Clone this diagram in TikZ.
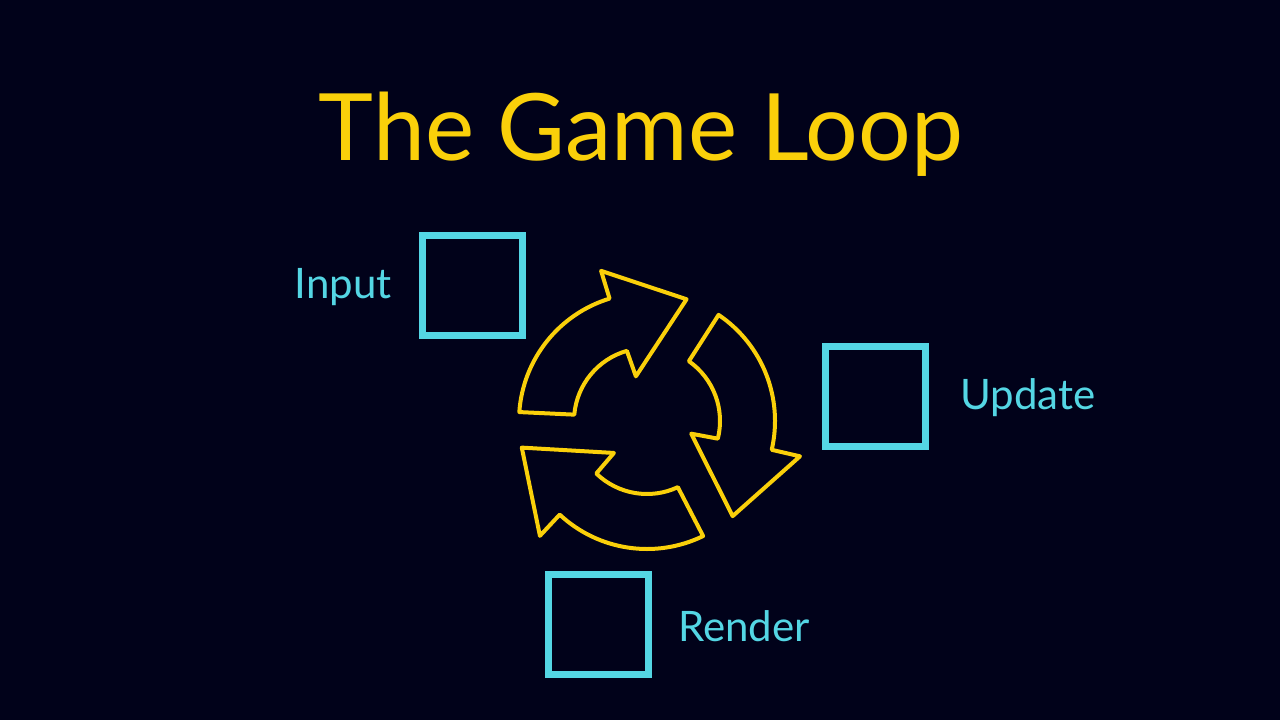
\documentclass[tikz,border=0pt]{standalone}
\usepackage{fontspec}
\setmainfont{Lato}
\definecolor{bg}{RGB}{1,2,26}
\definecolor{gold}{RGB}{250,208,10}
\definecolor{cyanb}{RGB}{84,214,228}
\begin{document}
\begin{tikzpicture}[x=0.5pt,y=0.5pt,
  sq/.style={draw=cyanb,line width=3.5pt,minimum size=50pt,inner sep=0pt},
  lbl/.style={text=cyanb,font=\fontsize{21}{24}\selectfont},
  arr/.style={draw=gold,line width=2pt,line join=round}]
\fill[bg] (0,0) rectangle (1280,720);
\useasboundingbox (0,0) rectangle (1280,720);
\node[text=gold,font=\fontsize{46.5}{52}\selectfont] (title) at (641,586) {The Game Loop};
\node[sq] (in) at (472,435) {};
\node[sq] (up) at (875,324) {};
\node[sq] (re) at (598,96) {};
\node[lbl] (inl) at (343,433) {Input};
\node[lbl] (upl) at (1028,322) {Update};
\node[lbl] (rel) at (744,94) {Render};
\foreach \r in {0,-120,-240}{
\begin{scope}[shift={(647,299)},rotate=\r]
\draw[arr] (176:64pt) arc[start angle=176,end angle=107,radius=64pt]
  -- (107:78.5pt) -- (72:64pt) -- (104:23pt) -- (106:36.5pt)
  arc[start angle=106,end angle=175,radius=36.5pt] -- cycle;
\end{scope}}
\end{tikzpicture}
\end{document}
